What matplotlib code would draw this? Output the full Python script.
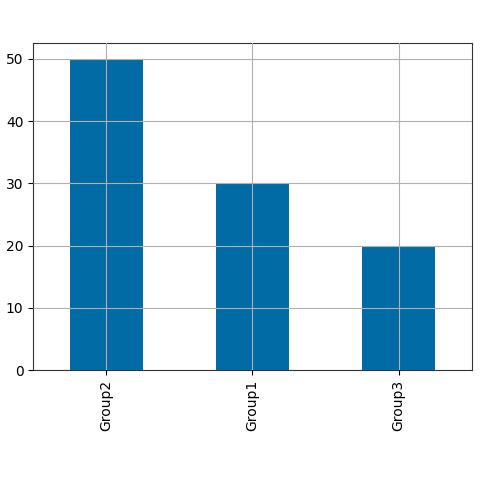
import matplotlib
matplotlib.use("Agg")
import matplotlib.pyplot as plt

groups = ["Group2", "Group1", "Group3"]
values = [50, 30, 20]

fig = plt.figure(figsize=(4.8, 4.8), dpi=100)
ax = fig.add_axes([0.069, 0.229, 0.914, 0.681])
ax.bar(range(len(groups)), values, width=0.5, color="#006BA4")
ax.set_xticks(range(len(groups)))
ax.set_xticklabels(groups, rotation=90)
ax.set_xlim(-0.5, len(groups) - 0.5)
ax.set_ylim(0, 52.5)
ax.grid(True, color="#b0b0b0")
ax.set_axisbelow(False)
for s in ax.spines.values():
    s.set_color("#333333")

fig.savefig("out.png", dpi=100)
